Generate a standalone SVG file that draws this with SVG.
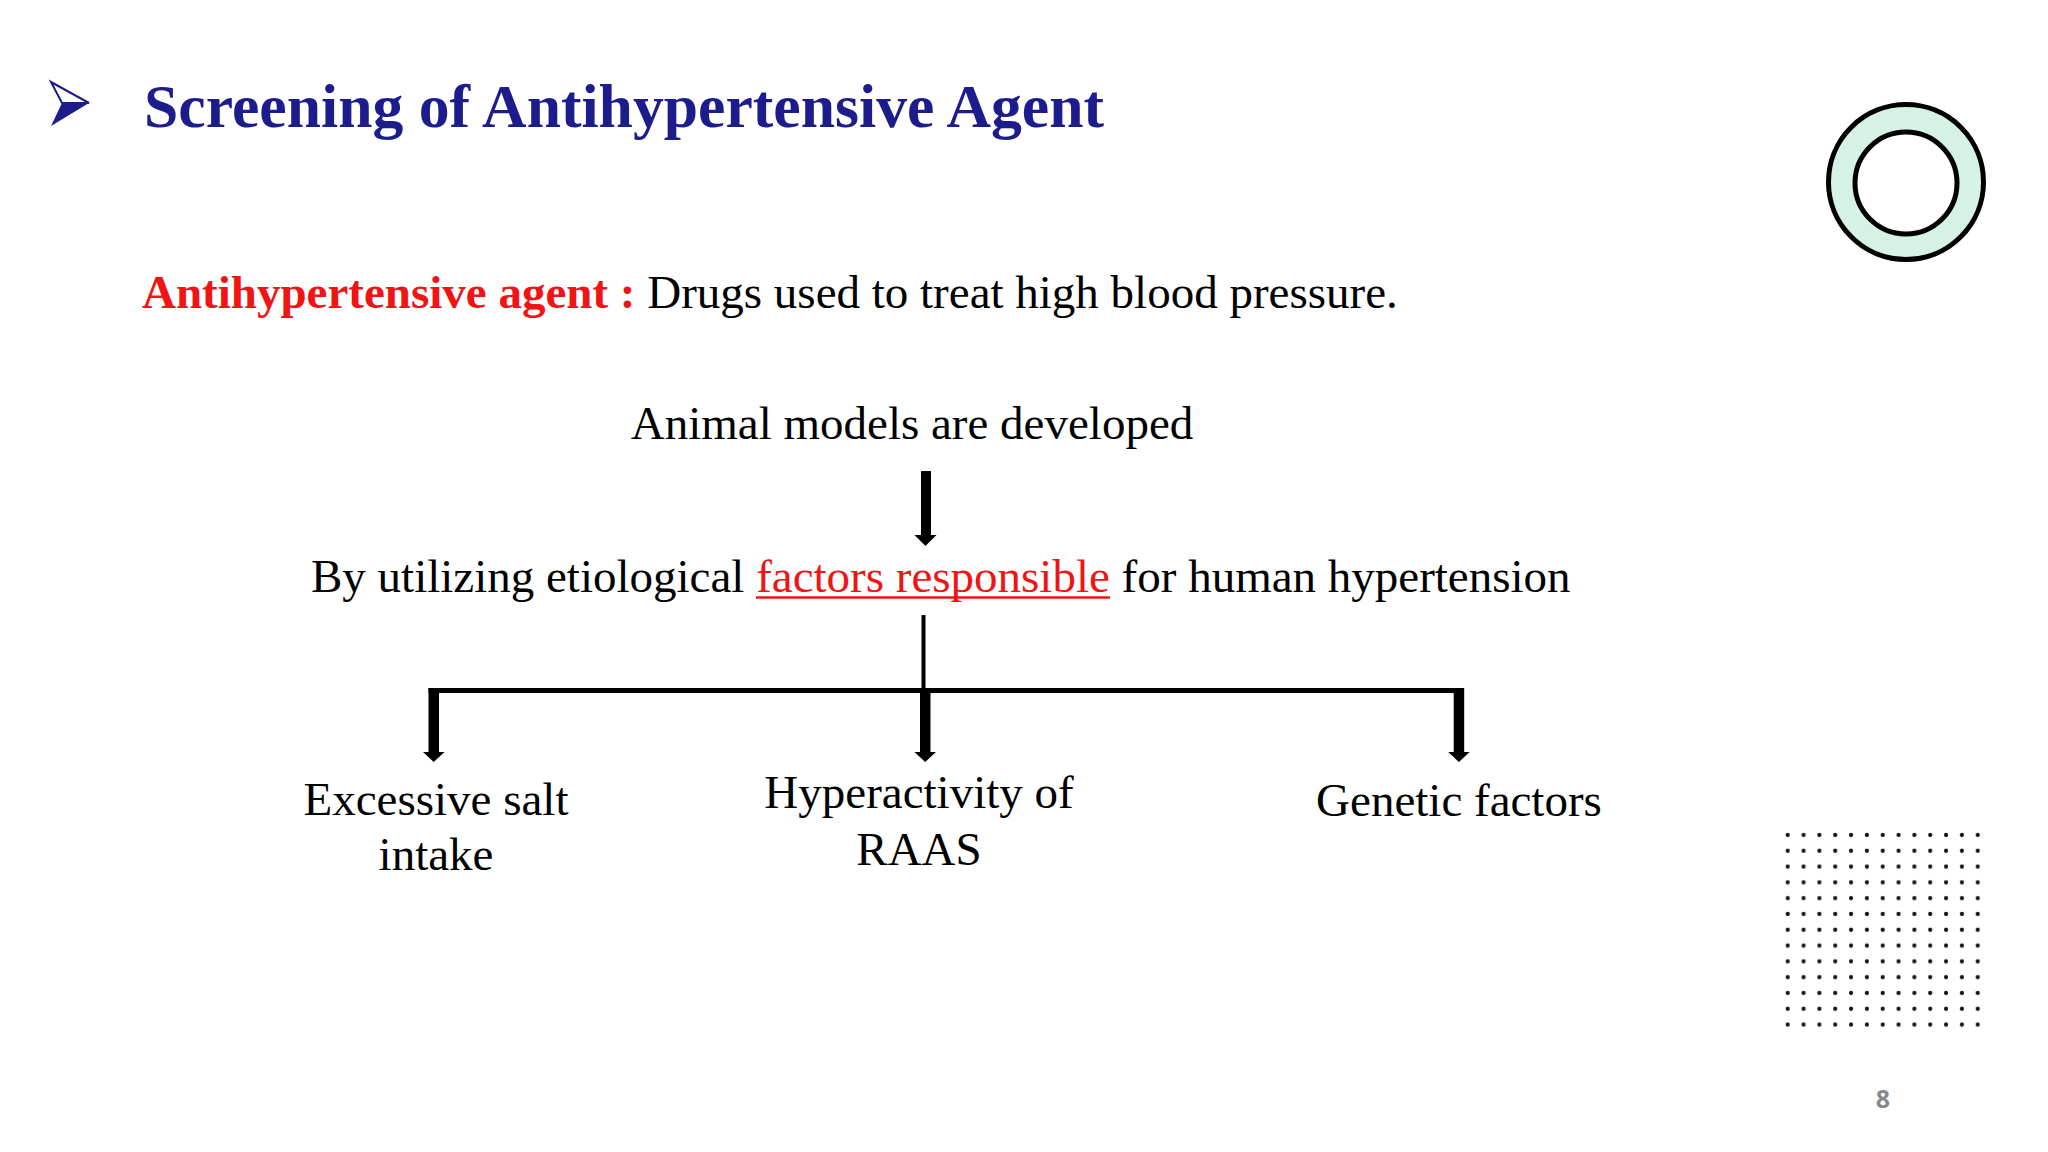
<svg xmlns="http://www.w3.org/2000/svg" width="2048" height="1152" viewBox="0 0 2048 1152">
  <defs>
    <style>
      .serif { font-family: "Liberation Serif", "Times New Roman", serif; }
      .title { font-size: 61px; font-weight: bold; fill: #1c1c8c; }
      .body { font-size: 47px; fill: #000000; }
      .red { fill: #f01414; }
      .bold { font-weight: bold; }
      .mid { text-anchor: middle; }
      .conn { fill: #000000; stroke: none; }
      .line { stroke: #000000; fill: none; }
      .pg { font-family: "Open Sans", "Liberation Sans", sans-serif; font-size: 25px; font-weight: bold; fill: #888888; }
    </style>
    <pattern id="dots" patternUnits="userSpaceOnUse" x="1779.8" y="827.1" width="15.833" height="15.8">
      <circle cx="7.92" cy="7.9" r="2.1" fill="#111111"/>
    </pattern>
  </defs>

  <rect x="0" y="0" width="2048" height="1152" fill="#ffffff"/>

  <!-- Title with bullet -->
  <g id="title">
    <polygon points="62,103 89,103 51,126" fill="#1c1c8c"/>
    <polygon points="51,82 89,103 62,103" fill="#ffffff" stroke="#1c1c8c" stroke-width="2" stroke-linejoin="miter"/>
    <text class="serif title" x="144" y="127" textLength="960" lengthAdjust="spacingAndGlyphs">Screening of Antihypertensive Agent</text>
  </g>

  <!-- Decorative ring -->
  <g id="ring">
    <circle cx="1906" cy="182" r="77.5" fill="#d5f2e4" stroke="#000000" stroke-width="5"/>
    <circle cx="1906" cy="183" r="51" fill="#ffffff" stroke="#000000" stroke-width="5"/>
  </g>

  <!-- Definition -->
  <g id="definition">
    <text class="serif body" x="142" y="308"><tspan class="red bold">Antihypertensive agent : </tspan><tspan>Drugs used to treat high blood pressure.</tspan></text>
  </g>

  <g id="node-animal-models">
    <text class="serif body mid" x="912" y="439">Animal models are developed</text>
  </g>

  <g id="node-etiological">
    <text class="serif body" x="311" y="592">By utilizing etiological <tspan class="red">factors responsible</tspan> for human hypertension</text>
    <line x1="756" y1="597.5" x2="1110" y2="597.5" stroke="#f01414" stroke-width="2.5"/>
  </g>

  <g id="node-salt">
    <text class="serif body mid" x="436" y="815">Excessive salt</text>
    <text class="serif body mid" x="436" y="870">intake</text>
  </g>

  <g id="node-raas">
    <text class="serif body mid" x="919" y="808">Hyperactivity of</text>
    <text class="serif body mid" x="919" y="865">RAAS</text>
  </g>

  <g id="node-genetic">
    <text class="serif body mid" x="1459" y="816">Genetic factors</text>
  </g>

  <!-- Connectors -->
  <g id="connectors">
    <!-- Animal models -> etiological -->
    <rect class="conn" x="921" y="471" width="10" height="65"/>
    <polygon class="conn" points="914.5,535 936.5,535 925.5,546"/>
    <!-- stem down from etiological -->
    <line class="line" x1="923.5" y1="615" x2="923.5" y2="690" stroke-width="4"/>
    <!-- horizontal bar -->
    <line class="line" x1="428.5" y1="690.5" x2="1464" y2="690.5" stroke-width="5"/>
    <!-- left branch -->
    <rect class="conn" x="428.5" y="688" width="10.5" height="64.5"/>
    <polygon class="conn" points="423,752 444.5,752 433.7,762"/>
    <!-- middle branch -->
    <rect class="conn" x="920" y="688" width="10.5" height="64.5"/>
    <polygon class="conn" points="914.5,752 936,752 925.2,762"/>
    <!-- right branch -->
    <rect class="conn" x="1453.7" y="688" width="10.5" height="64.5"/>
    <polygon class="conn" points="1448.2,752 1469.7,752 1458.9,762"/>
  </g>

  <!-- Dot grid decoration -->
  <rect id="dot-grid" x="1779.8" y="827.1" width="205.8" height="205.4" fill="url(#dots)"/>

  <!-- Page number -->
  <text id="page-number" class="pg mid" x="1883" y="1108">8</text>
</svg>
